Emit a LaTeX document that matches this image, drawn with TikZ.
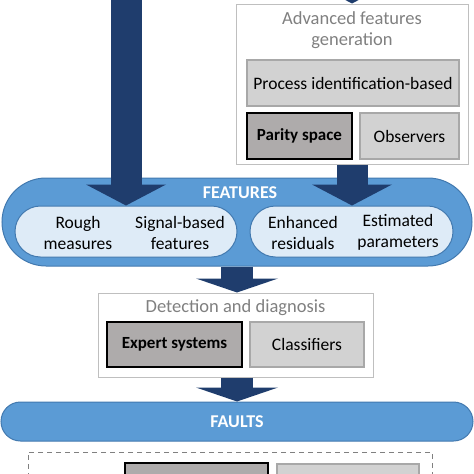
\documentclass[tikz,border=0pt]{standalone}
\usepackage{fontspec}
\setmainfont{Carlito}
\usetikzlibrary{arrows.meta,positioning}
\definecolor{navy}{HTML}{1F3D6D}
\definecolor{pillblue}{HTML}{5B9BD5}
\definecolor{pillline}{HTML}{4279AF}
\definecolor{innerblue}{HTML}{DEEBF7}
\definecolor{lightfill}{HTML}{D2D2D2}
\definecolor{lightline}{HTML}{A8A8A8}
\definecolor{darkfill}{HTML}{AEABAB}
\definecolor{framegray}{HTML}{BFBFBF}
\definecolor{titlegray}{HTML}{808080}
\tikzset{
  txt/.style={font=\fontsize{17.5}{21}\selectfont, align=center, inner sep=0pt},
  container/.style={draw=framegray, fill=white, line width=1pt, inner sep=0pt},
  lightcell/.style={txt, draw=lightline, fill=lightfill, line width=1.5pt},
  darkcell/.style={txt, font=\fontsize{17}{21}\selectfont\bfseries, draw=black, fill=darkfill, line width=2pt},
  title/.style={txt, font=\fontsize{18.5}{21}\selectfont, text=titlegray},
  bigpill/.style={draw=pillline, fill=pillblue, line width=1pt, inner sep=0pt},
  innerpill/.style={draw=pillline, fill=innerblue, line width=1pt, inner sep=0pt},
  pilltext/.style={txt, font=\fontsize{18}{21}\selectfont\bfseries, text=white},
  longarrow/.style={draw=navy, line width=31pt, -{Triangle[length=21pt,width=80pt,line width=0pt]}},
  shortarrow/.style={draw=navy, line width=32pt, -{Triangle[length=14pt,width=82pt,line width=0pt]}}
}
\begin{document}
\begin{tikzpicture}[x=1pt,y=-1pt]
\useasboundingbox (0,0) rectangle (474,474);
\clip (0,0) rectangle (474,474);
% advanced features block
\node[container, minimum width=232pt, minimum height=160pt] (adv) at (352,84) {};
\node[title] (advtitle) at (352,30.5) {Advanced features\\generation};
\node[lightcell, minimum width=212pt, minimum height=46pt] (proc) at (353,83) {Process identification-based};
\node[darkcell, minimum width=105pt, minimum height=46pt] (parity) at (299.5,136) {Parity space};
\node[lightcell, minimum width=99pt, minimum height=46pt] (observers) at (409.5,136) {Observers};
% features
\node[bigpill, rounded corners=44pt, minimum width=470pt, minimum height=88pt] (features) at (237,222) {};
\node[pilltext] (featlabel) at (240,193) {FEATURES};
\node[innerpill, rounded corners=25.5pt, minimum width=222pt, minimum height=51pt] (leftpill) at (126,231.5) {};
\node[innerpill, rounded corners=25.5pt, minimum width=203pt, minimum height=51pt] (rightpill) at (351.5,231.5) {};
\node[txt] (rough) at (78,232.5) {Rough\\measures};
\node[txt] (signal) at (180,232.5) {Signal-based\\features};
\node[txt] (enhanced) at (303,232.5) {Enhanced\\residuals};
\node[txt] (estimated) at (398,232.5) {Estimated\\parameters};
% detection and diagnosis
\node[container, minimum width=275pt, minimum height=84pt] (detect) at (235.5,335) {};
\node[title] (detecttitle) at (235.5,308) {Detection and diagnosis};
\node[darkcell, minimum width=135pt, minimum height=45pt] (expert) at (174.5,344.5) {Expert systems};
\node[lightcell, minimum width=114pt, minimum height=45pt] (classifiers) at (307,344.5) {Classifiers};
% faults
\node[bigpill, rounded corners=19.5pt, minimum width=472pt, minimum height=39pt] (faults) at (237,421.5) {};
\node[pilltext] (faultlabel) at (237,421.5) {FAULTS};
% lower block, cut by the page edge
\node[draw=titlegray, dashed, line width=1pt, dash pattern=on 5pt off 4pt, minimum width=404pt, minimum height=80pt, inner sep=0pt] (lower) at (230,492) {};
\node[darkcell, minimum width=143pt, minimum height=54pt] (lowerdark) at (196.5,490) {};
\node[lightcell, minimum width=142pt, minimum height=52pt] (lowerlight) at (348,490) {};
% arrows
\coordinate (leftstart) at (126,-20);
\coordinate (topstart) at (352,-40);
\draw[longarrow] (leftstart) -- (leftpill.north);
\draw[longarrow] (topstart) -- (adv.north);
\draw[longarrow] (adv.south) -- (adv.south |- rightpill.north);
\draw[shortarrow] (features.south) -- (features.south |- detect.north);
\draw[shortarrow] (features.south |- detect.south) -- (faults.north);
\end{tikzpicture}
\end{document}
